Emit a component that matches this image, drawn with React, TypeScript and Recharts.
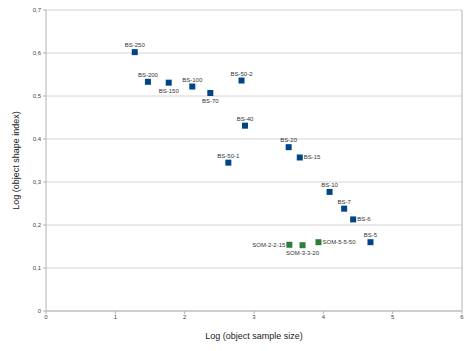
import { ScatterChart, Scatter, XAxis, YAxis, ZAxis, CartesianGrid, ReferenceLine, Label } from "recharts";

const bsNames = ["BS-250", "BS-200", "BS-150", "BS-100", "BS-70", "BS-50-2", "BS-40", "BS-50-1", "BS-20", "BS-15", "BS-10", "BS-7", "BS-6", "BS-5"];
const bsX = [1.28, 1.47, 1.77, 2.11, 2.37, 2.82, 2.87, 2.63, 3.5, 3.66, 4.09, 4.3, 4.43, 4.68];
const bsY = [0.602, 0.533, 0.531, 0.522, 0.507, 0.536, 0.431, 0.345, 0.381, 0.357, 0.277, 0.238, 0.213, 0.16];

const somNames = ["SOM-2-2-15", "SOM-3-3-20", "SOM-5-5-50"];
const somX = [3.51, 3.7, 3.93];
const somY = [0.154, 0.153, 0.16];

const xTicks = [0, 1, 2, 3, 4, 5, 6];
const yTicks = [0, 0.1, 0.2, 0.3, 0.4, 0.5, 0.6, 0.7];

// where each point's label sits
const labelPos: Record<string, string> = {
  "BS-150": "below",
  "BS-70": "below",
  "BS-15": "right",
  "BS-6": "right",
  "SOM-2-2-15": "left",
  "SOM-3-3-20": "below",
  "SOM-5-5-50": "right",
};

const BLUE = "#004586";
const GREEN = "#2f7d3a";
const FONT = "'Liberation Sans', Arial, sans-serif";

const bsData = bsNames.map((name, i) => ({ name, x: bsX[i], y: bsY[i] }));
const somData = somNames.map((name, i) => ({ name, x: somX[i], y: somY[i] }));

function makeShape(color: string) {
  return (props: any) => {
    const { cx, cy, payload } = props;
    const pos = labelPos[payload.name] || "above";
    let tx = cx;
    let ty = cy - 5;
    let anchor: "start" | "middle" | "end" = "middle";
    if (pos === "below") ty = cy + 10;
    if (pos === "right") { tx = cx + 4; ty = cy + 2; anchor = "start"; }
    if (pos === "left") { tx = cx - 4; ty = cy + 2; anchor = "end"; }
    return (
      <g>
        <rect x={cx - 3} y={cy - 3} width={6} height={6} fill={color} />
        <text x={tx} y={ty} textAnchor={anchor} fontSize={6} fill="#333" fontFamily={FONT}>
          {payload.name}
        </text>
      </g>
    );
  };
}

const YTitle = (props: any) => {
  const { viewBox } = props;
  const cx = 16;
  const cy = viewBox.y + viewBox.height / 2;
  return (
    <text x={cx} y={cy} transform={`rotate(-90, ${cx}, ${cy})`} textAnchor="middle" dominantBaseline="central" fontSize={9} fill="#222" fontFamily={FONT}>
      Log (object shape index)
    </text>
  );
};

export default function App() {
  return (
    <div style={{ position: "absolute", left: 0, top: 0 }}>
      <ScatterChart width={474} height={351} margin={{ top: 10, right: 12, bottom: 0, left: 0 }}>
        <CartesianGrid vertical={false} stroke="#d4d4d4" />
        <XAxis
          type="number"
          dataKey="x"
          domain={[0, 6]}
          ticks={xTicks}
          height={40}
          tickSize={3}
          tickMargin={1}
          stroke="#b3b3b3"
          tick={{ fontSize: 6, fill: "#444", fontFamily: FONT }}
        >
          <Label value="Log (object sample size)" position="insideBottom" offset={12} fontSize={9} fill="#222" fontFamily={FONT} />
        </XAxis>
        <YAxis
          type="number"
          dataKey="y"
          domain={[0, 0.7]}
          ticks={yTicks}
          width={46}
          tickSize={3}
          tickMargin={2}
          stroke="#b3b3b3"
          tickFormatter={(v: number) => String(Math.round(v * 10) / 10).replace(".", ",")}
          tick={{ fontSize: 6, fill: "#444", fontFamily: FONT }}
        >
          <Label content={YTitle} />
        </YAxis>
        <ZAxis range={[36, 36]} />
        <ReferenceLine x={6} stroke="#b3b3b3" />
        <Scatter data={bsData} fill={BLUE} shape={makeShape(BLUE)} isAnimationActive={false} />
        <Scatter data={somData} fill={GREEN} shape={makeShape(GREEN)} isAnimationActive={false} />
      </ScatterChart>
    </div>
  );
}
